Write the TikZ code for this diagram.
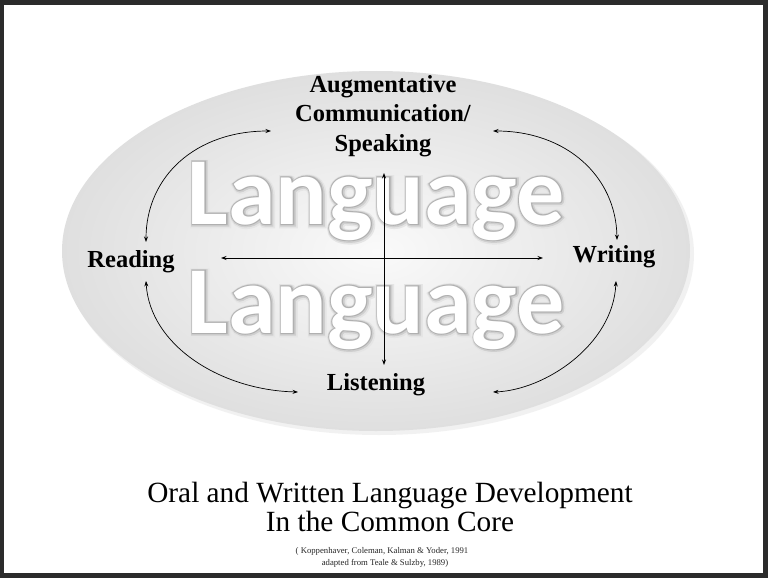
\documentclass[tikz,border=0pt]{standalone}
\usepackage{fontspec}
\setmainfont{Liberation Serif}
\newfontfamily\langfont{Carlito Bold}
\newfontfamily\langglowA{Carlito Bold}[FakeBold=7]
\newfontfamily\langglowB{Carlito Bold}[FakeBold=4.5]
\newfontfamily\langglowC{Carlito Bold}[FakeBold=2.2]
\usetikzlibrary{arrows.meta}
\definecolor{framegray}{HTML}{2B2B2B}
\begin{document}
\begin{tikzpicture}[x=1pt,y=-1pt,
  lbl/.style={font=\fontsize{24.5}{29.5}\selectfont\bfseries, inner sep=0pt, align=center},
  conn/.style={line width=0.7pt, {Stealth[length=5.5pt,width=4pt]}-{Stealth[length=5.5pt,width=4pt]}},
  bigword/.style={inner sep=0pt, anchor=base, text height=61pt, text depth=18pt},
  title/.style={font=\fontsize{29.3}{29}\selectfont, inner sep=0pt, anchor=base},
  cite/.style={font=\fontsize{8.7}{11}\selectfont, inner sep=0pt, anchor=base, text=black!85}]
\useasboundingbox (0,0) rectangle (768,578);
\fill[framegray] (0,0) rectangle (768,578);
\fill[white] (4,5) rectangle (763,573);
% ellipse with soft shadow
\fill[gray!30, opacity=0.35] (379,254) ellipse [x radius=315, y radius=181];
\shade[inner color=gray!4, outer color=gray!25] (376,251) ellipse [x radius=314, y radius=180];
% Language words
\foreach \yy/\nm in {224/up,333/lo} {
  \node[bigword, text=gray!20, font=\langglowA\fontsize{96}{96}\selectfont] (\nm a) at (377,\yy+1) {Language};
  \node[bigword, text=gray!38, font=\langglowB\fontsize{96}{96}\selectfont] (\nm b) at (376.5,\yy+0.5) {Language};
  \node[bigword, text=gray!62, font=\langglowC\fontsize{96}{96}\selectfont] (\nm c) at (376,\yy) {Language};
  \node[bigword, text=white, font=\langfont\fontsize{96}{96}\selectfont] (\nm) at (376,\yy) {Language};
}
% labels
\node[lbl] (aug) at (383,116) {Augmentative\\Communication/\\Speaking};
\node[lbl] (read) at (131,262) {Reading};
\node[lbl] (writ) at (614,257) {Writing};
\node[lbl] (list) at (376,385) {Listening};
% arrow end points
\coordinate (vt) at (384,173);
\coordinate (vb) at (384,365);
\coordinate (hl) at (221,258);
\coordinate (hr) at (543,258);
\coordinate (rt) at (146,242);
\coordinate (rb) at (146,281);
\coordinate (wt) at (617,240);
\coordinate (wb) at (616,281);
\coordinate (al) at (271,131);
\coordinate (ar) at (493,131);
\coordinate (ll) at (298,392);
\coordinate (lr) at (493,392);
% connectors
\draw[conn] (vt) -- (vb);
\draw[conn] (hl) -- (hr);
\draw[conn] (rt) .. controls (146,176) and (196,131) .. (al);
\draw[conn] (ar) .. controls (566,131) and (616,176) .. (wt);
\draw[conn] (rb) .. controls (150,345) and (220,390) .. (ll);
\draw[conn] (wb) .. controls (613,345) and (545,390) .. (lr);
% bottom titles
\node[title] (t1) at (390,502) {Oral and Written Language Development};
\node[title] (t2) at (390,531) {In the Common Core};
\node[cite] (c1) at (382,553) {( Koppenhaver, Coleman, Kalman \& Yoder, 1991};
\node[cite] (c2) at (385,565) {adapted from Teale \& Sulzby, 1989)};
\end{tikzpicture}
\end{document}
